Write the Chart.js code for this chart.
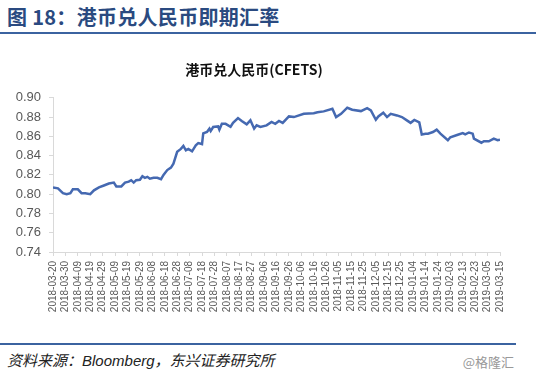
<!DOCTYPE html>
<html>
<head>
<meta charset="utf-8">
<script src="https://cdn.jsdelivr.net/npm/chart.js@4"></script>
<style>
  body { margin: 0; width: 536px; height: 377px; background: #fff; position: relative; overflow: hidden; font-family: "Noto Sans CJK SC", "Liberation Sans", sans-serif; }
  #head { position: absolute; left: 7px; top: 2px; font-size: 20px; font-weight: bold; color: #2a4a80; letter-spacing: 0.3px; }
  #topline { position: absolute; left: 0; top: 32px; width: 536px; height: 2px; background: #3b63a0; }
  #box { position: absolute; left: 0; top: 40px; width: 536px; height: 295px; }
  #botline { position: absolute; left: 0; top: 343px; width: 516px; height: 2px; background: #3b63a0; }
  #src { position: absolute; left: 7px; top: 349px; font-size: 15px; font-style: italic; color: #222; }
  #src .en { font-family: "Liberation Sans", sans-serif; }
  #mark { position: absolute; right: 22px; top: 352px; font-size: 13px; color: #999; }
</style>
</head>
<body>
<div id="head">图&nbsp;18：港币兑人民币即期汇率</div>
<div id="topline"></div>
<div id="box"><canvas id="rateChart"></canvas></div>
<div id="botline"></div>
<div id="src">资料来源：<span class="en">Bloomberg</span>，东兴证券研究所</div>
<div id="mark">@格隆汇</div>
<script>
// days after 2018-03-20
const days = [0,4,8,11,14,16,20,23,26,30,
  33,37,41,45,49,51,55,58,61,63,
  65,67,70,72,74,76,78,81,84,87,
  89,92,95,97,100,103,105,107,109,112,
  115,117,120,121,124,126,127,129,133,134,
  136,139,143,145,149,152,156,159,162,164,
  167,172,176,179,182,185,190,194,202,210,
  213,218,225,228,232,237,241,248,253,256,
  260,262,266,269,272,277,281,285,288,291,
  295,297,300,302,306,309,312,318,320,326,
  330,332,335,338,339,345,347,351,355,358,360];
const rates = [0.807,0.806,0.801,0.800,0.801,0.805,0.805,0.801,0.801,0.800,
  0.804,0.807,0.809,0.811,0.812,0.808,0.808,0.812,0.813,0.8145,
  0.812,0.8145,0.815,0.8186,0.817,0.818,0.816,0.817,0.817,0.8155,
  0.820,0.825,0.8276,0.8317,0.844,0.847,0.850,0.8455,0.847,0.8445,
  0.8507,0.853,0.852,0.863,0.8645,0.868,0.8655,0.8697,0.8703,0.867,
  0.873,0.873,0.870,0.874,0.879,0.876,0.8724,0.8766,0.868,0.8714,
  0.8697,0.8714,0.875,0.873,0.876,0.874,0.8807,0.880,0.8834,0.884,
  0.885,0.8859,0.8886,0.880,0.8834,0.8897,0.8876,0.8862,0.8893,0.887,
  0.8772,0.8807,0.8845,0.880,0.8834,0.8817,0.880,0.8766,0.874,0.877,
  0.8745,0.862,0.8628,0.8628,0.8645,0.867,0.8628,0.8559,0.859,0.8617,
  0.8634,0.862,0.864,0.8628,0.8576,0.8534,0.855,0.8548,0.8576,0.856,0.8566];
const startDate = Date.UTC(2018, 2, 20);
const yTicks = [0.74, 0.76, 0.78, 0.80, 0.82, 0.84, 0.86, 0.88, 0.90];

function dayLabel(d) {
  const t = new Date(startDate + d * 86400000);
  const mm = String(t.getUTCMonth() + 1).padStart(2, '0');
  const dd = String(t.getUTCDate()).padStart(2, '0');
  return t.getUTCFullYear() + '-' + mm + '-' + dd;
}

const ctx = document.getElementById('rateChart').getContext('2d');
new Chart(ctx, {
  type: 'line',
  data: {
    datasets: [{
      label: '港币兑人民币(CFETS)',
      data: days.map((d, i) => ({ x: d, y: rates[i] })),
      borderColor: '#4569b1',
      borderWidth: 2.5,
      pointRadius: 0,
      tension: 0,
      fill: false
    }]
  },
  options: {
    responsive: true,
    maintainAspectRatio: false,
    animation: false,
    layout: { padding: { left: 8, right: 36, top: 8, bottom: 0 } },
    plugins: {
      legend: { display: false },
      tooltip: { enabled: false },
      title: {
        display: true,
        text: '港币兑人民币(CFETS)',
        color: '#111',
        align: 'center',
        font: { family: '"Noto Sans CJK SC", sans-serif', size: 14, weight: 'bold' },
        padding: { top: 13, bottom: 20 }
      }
    },
    scales: {
      x: {
        type: 'linear',
        min: 0,
        max: 360,
        afterBuildTicks: (axis) => {
          axis.ticks = [];
          for (let d = 0; d <= 360; d += 10) axis.ticks.push({ value: d });
        },
        afterFit: (axis) => { axis.height = 83; },
        grid: { drawOnChartArea: false, drawTicks: true, tickLength: 4, color: '#d9d9d9' },
        border: { color: '#d9d9d9' },
        ticks: {
          autoSkip: false,
          maxRotation: 90,
          minRotation: 90,
          padding: 5,
          color: '#595959',
          font: { family: '"Liberation Sans", sans-serif', size: 10 },
          callback: (v) => dayLabel(v)
        }
      },
      y: {
        min: 0.74,
        max: 0.90,
        afterBuildTicks: (axis) => { axis.ticks = yTicks.map(v => ({ value: v })); },
        afterFit: (axis) => { axis.width = 45; },
        grid: { drawOnChartArea: false, drawTicks: true, tickLength: 4, color: '#d9d9d9' },
        border: { color: '#d9d9d9' },
        ticks: {
          padding: 8,
          color: '#595959',
          font: { family: '"Liberation Sans", sans-serif', size: 13 },
          callback: (v) => v.toFixed(2)
        }
      }
    }
  }
});
</script>
</body>
</html>
